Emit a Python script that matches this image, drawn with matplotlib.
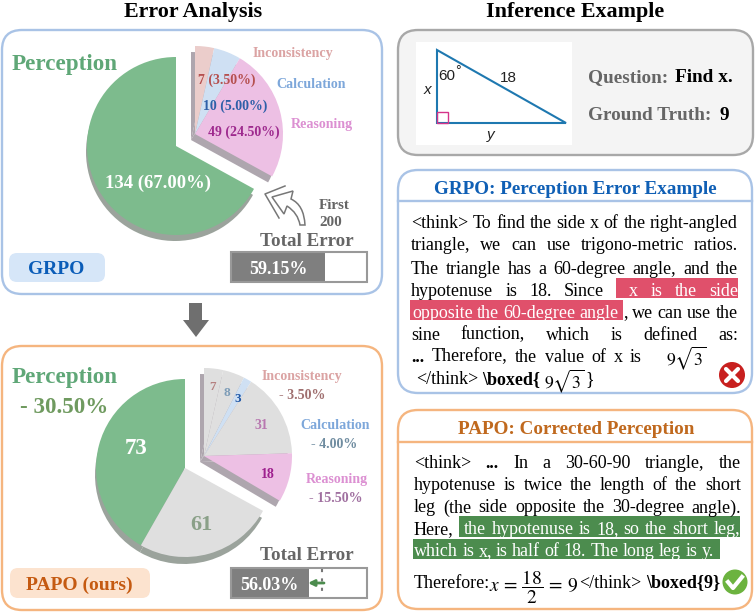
import matplotlib
matplotlib.use('Agg')
import matplotlib.pyplot as plt
from matplotlib.patches import FancyBboxPatch, Rectangle, Polygon, Circle, PathPatch
from matplotlib.path import Path

# ================
# Data
# ================

grpo_big = [134, 66]
grpo_small = [7, 10, 49, 134]
# the big papo slices are not drawn to scale in the figure, so these are the shares as drawn
papo_big = [83.5, 50.5, 66]
papo_small = [7, 8, 3, 31, 18, 133]

grpo_error = 59.15
papo_error = 56.03

grpo_text = [
    "<think> To find the side x of the right-angled",
    "triangle, we can use trigono-metric ratios.",
    "The triangle has a 60-degree angle, and the",
]
papo_text = [
    "In a 30-60-90 triangle, the",
    "hypotenuse is twice the length of the short",
    "leg (the side opposite the 30-degree angle).",
]

# ================
# Style
# ================

W, H = 755, 613
SERIF = 'Liberation Serif'
BODY = 13
green, green_shadow = '#7DBB8D', '#9BA39C'
pink, rose, light_blue, grey = '#EDC0E4', '#EBCDCB', '#CFE0F3', '#DFDFDF'
small_shadow = '#AEA6AE'
bar_grey = '#7F7F7F'
text_grey = '#666666'

plt.rcParams['mathtext.fontset'] = 'stix'

fig = plt.figure(figsize=(W / 100, H / 100), dpi=100)
ax = fig.add_axes([0, 0, 1, 1])


def reset_axes():
    ax.set_xlim(0, W)
    ax.set_ylim(H, 0)
    ax.set_aspect('equal')
    ax.axis('off')


def txt(x, y, s, size=12, color='black', weight='normal', ha='center', **kw):
    return ax.text(x, y, s, fontsize=size, color=color, fontweight=weight, ha=ha,
                   va='center_baseline', family=kw.pop('family', SERIF), **kw)


def panel(x0, y0, x1, y1, edge, face='white', r=20, lw=1.7):
    ax.add_patch(FancyBboxPatch((x0 + r, y0 + r), x1 - x0 - 2 * r, y1 - y0 - 2 * r,
                                boxstyle=f'round,pad={r},rounding_size={r}',
                                fc=face, ec=edge, lw=lw, zorder=1))


def pill(x0, y0, x1, y1, face, r=8):
    ax.add_patch(FancyBboxPatch((x0 + r, y0 + r), x1 - x0 - 2 * r, y1 - y0 - 2 * r,
                                boxstyle=f'round,pad={r},rounding_size={r}',
                                fc=face, ec='none', zorder=2))


def pie(values, colors, center, radius, clockwise=True):
    # y axis points down here, so increasing angles run clockwise on screen
    ax.pie(values, colors=colors, center=center, radius=radius, startangle=-90,
           counterclock=clockwise, frame=True, wedgeprops={'lw': 0})


def error_bar(value, y):
    # bar is cropped, it does not start from zero
    ax.barh(y, (value - 40.8) * 5.13, left=231, height=30, color=bar_grey, zorder=3)
    ax.add_patch(Rectangle((231, y - 15), 136, 30, fc='none', ec='#999999', lw=1.5, zorder=3))


def justify(words, x0, x1, y, size=BODY, color='black'):
    # lay the words out one by one so both edges of the line are flush
    rend = fig.canvas.get_renderer()
    items = []
    for w in words:
        word, weight = w if isinstance(w, tuple) else (w, 'normal')
        items.append(txt(x0, y, word, size=size, color=color, weight=weight, ha='left', zorder=3))
    widths = [t.get_window_extent(rend).width for t in items]
    gap = (x1 - x0 - sum(widths)) / max(len(items) - 1, 1)
    x = x0
    for t, width in zip(items, widths):
        t.set_x(x)
        x += width + gap


reset_axes()

txt(193, 9, 'Error Analysis', size=15.8, weight='bold')
txt(575, 9, 'Inference Example', size=15.8, weight='bold')

# ---- left top panel
panel(2, 30, 382, 294, '#A9C3E6')
pie(grpo_big, [green_shadow, 'none'], (175, 152), 89, clockwise=False)
pie(grpo_big, [green, 'none'], (176, 146), 89, clockwise=False)
pie(grpo_small, [small_shadow] * 3 + ['none'], (191, 140), 88)
pie(grpo_small, [rose, light_blue, pink, 'none'], (195, 134), 88)
reset_axes()

txt(65, 62, 'Perception', size=16.6, color='#5FA777', weight='bold')
txt(158, 181, '134 (67.00%)', size=13.4, color='white', weight='bold')
txt(293, 52, 'Inconsistency', size=10.1, color='#DBA3A3', weight='bold')
txt(311, 83, 'Calculation', size=10.1, color='#7DA7DA', weight='bold')
txt(322, 123, 'Reasoning', size=10.1, color='#DC90D2', weight='bold')
txt(227, 79, '7 (3.50%)', size=10, color='#B5504F', weight='bold')
txt(235, 105, '10 (5.00%)', size=10, color='#2E5FA8', weight='bold')
txt(244, 131, '49 (24.50%)', size=10, color='#9E2A8E', weight='bold')
txt(319, 204, 'First', size=10.9, color=text_grey, weight='bold', ha='left')
txt(319, 221, '200', size=10.9, color=text_grey, weight='bold', ha='left')
txt(307, 239, 'Total Error', size=13.7, color=text_grey, weight='bold')

# hollow double arrow pointing back at the slice
arrow = Path([(272, 197), (293, 191), (291, 199), (304, 205), (305, 225),
              (300, 225), (298, 213), (287, 206), (284, 214), (272, 197)],
             [Path.MOVETO, Path.LINETO, Path.LINETO, Path.CURVE3, Path.CURVE3,
              Path.LINETO, Path.CURVE3, Path.CURVE3, Path.LINETO, Path.CLOSEPOLY])
ax.add_patch(PathPatch(arrow, fc='none', ec='#777777', lw=1.1, zorder=3))
ax.plot([285, 265, 279], [186, 194, 218], color='#777777', lw=1.1, zorder=3)

pill(9, 253, 105, 282, '#D6E6F8')
txt(56, 267, 'GRPO', size=14, color='#0A5CB8', weight='bold')
error_bar(grpo_error, 267)
txt(278, 268, '59.15%', size=13, color='white', weight='bold', zorder=4)

# ---- down arrow between the panels
ax.add_patch(Polygon([(189, 303), (202, 303), (202, 320), (209, 320), (196, 337), (183, 320), (189, 320)],
                     fc='#6F6F6F', ec='none'))

# ---- left bottom panel
panel(2, 346, 382, 610, '#F5B57F')
pie(papo_big, [green_shadow, green_shadow, 'none'], (184, 475), 89, clockwise=False)
pie(papo_big, [green, grey, 'none'], (185, 468), 89, clockwise=False)
pie(papo_small, [small_shadow] * 5 + ['none'], (200, 462), 88)
pie(papo_small, [grey, grey, light_blue, grey, pink, 'none'], (204, 456), 88)
reset_axes()

txt(65, 375, 'Perception', size=16.6, color='#5FA777', weight='bold')
txt(64, 405, '- 30.50%', size=16.6, color='#6F9A5F', weight='bold')
txt(136, 446, '73', size=16.5, color='white', weight='bold')
txt(201, 523, '61', size=16, color='#8AA088', weight='bold')
txt(213, 386, '7', size=9.5, color='#B58080', weight='bold')
txt(227, 392, '8', size=9.5, color='#7E9DB8', weight='bold')
txt(238, 398, '3', size=9.5, color='#1F56A5', weight='bold')
txt(261, 424, '31', size=10, color='#B878B0', weight='bold')
txt(268, 473, '18', size=10, color='#9E1F8E', weight='bold')
txt(302, 375, 'Inconsistency', size=10.1, color='#DBA3A3', weight='bold')
txt(302, 394, '- 3.50%', size=10.1, color='#A07070', weight='bold')
txt(335, 424, 'Calculation', size=10.1, color='#7DA7DA', weight='bold')
txt(334, 443, '- 4.00%', size=10.1, color='#6F8CA0', weight='bold')
txt(337, 478, 'Reasoning', size=10.1, color='#DC90D2', weight='bold')
txt(336, 497, '- 15.50%', size=10.1, color='#A070A0', weight='bold')
txt(307, 553, 'Total Error', size=13.7, color=text_grey, weight='bold')

pill(10, 568, 150, 598, '#FCE3CF')
txt(79, 583, 'PAPO (ours)', size=14, color='#C55A11', weight='bold')
error_bar(papo_error, 583)
txt(269, 584, '56.03%', size=13, color='white', weight='bold', zorder=4)
ax.plot([322, 322], [569, 597], color='#777777', lw=1.5, ls=(0, (1.5, 3)), zorder=4)
ax.annotate('', xy=(308, 583), xytext=(324, 583), zorder=4,
            arrowprops=dict(arrowstyle='-|>', color='#4C8C4E', lw=2, mutation_scale=9,
                            shrinkA=0, shrinkB=0))

# ---- question panel
panel(398, 30, 753, 155, '#A8A8A8', face='#F4F4F4')
ax.add_patch(Rectangle((416, 42), 156, 103, fc='white', ec='none', zorder=2))
ax.add_patch(Polygon([(437, 50), (437, 123), (566, 123)], fc='none', ec='#1E78B0', lw=1.5, zorder=3))
ax.add_patch(Rectangle((437, 112), 11, 11, fc='none', ec='#D6338A', lw=1.0, zorder=3))
txt(447, 75, '60', size=11, family='Liberation Sans', color='#222222')
txt(458, 70, '°', size=10, family='Liberation Sans', color='#222222')
txt(508, 77, '18', size=11, family='Liberation Sans', color='#222222')
txt(427, 88, 'x', size=11, family='Liberation Sans', color='#222222', style='italic')
txt(491, 133, 'y', size=11, family='Liberation Sans', color='#222222', style='italic')
txt(588, 76, 'Question:', size=13.9, color=text_grey, weight='bold', ha='left')
txt(675, 76, 'Find x.', size=13.9, weight='bold', ha='left')
txt(588, 114, 'Ground Truth:', size=13.9, color=text_grey, weight='bold', ha='left')
txt(720, 114, '9', size=13.9, weight='bold', ha='left')

# ---- grpo example
panel(398, 170, 752, 393, '#A9C3E6')
ax.plot([398, 752], [201, 201], color='#A9C3E6', lw=1.7, zorder=2)
txt(575, 188, 'GRPO: Perception Error Example', size=13.8, color='#0F5FB5', weight='bold')
ys = [222, 244, 267, 289, 311, 333, 355, 378]
for y, line in zip(ys, grpo_text):
    justify(line.split(), 411, 738, y)
justify('hypotenuse is 18. Since'.split(), 411, 604, ys[3])
ax.add_patch(Rectangle((616, 278), 122, 20, fc='#E0506B', ec='none', zorder=2))
justify('x is the side'.split(), 629, 738, ys[3], color='white')
ax.add_patch(Rectangle((410, 300), 213, 20, fc='#E0506B', ec='none', zorder=2))
justify('opposite the 60-degree angle'.split(), 412, 618, ys[4], color='white')
justify(', we can use the'.split(), 623, 738, ys[4])
justify('sine function, which is defined as:'.split(), 411, 738, ys[5])
justify([('...', 'bold')] + 'Therefore, the value of x is'.split(), 411, 642, ys[6])
txt(666, ys[6], r'$9\sqrt{3}$', size=12.8, ha='left')
txt(416, ys[7], '</think>', size=BODY, ha='left')
txt(482, ys[7], r'\boxed{', size=BODY, ha='left', weight='bold')
txt(544, ys[7], r'$9\sqrt{3}$', size=12.8, ha='left')
txt(585, ys[7], '}', size=BODY, ha='left')
ax.add_patch(Circle((732, 375), 13, fc='#C8201F', ec='none', zorder=4))
ax.plot([726, 738], [369, 381], color='white', lw=3, zorder=5, solid_capstyle='round')
ax.plot([726, 738], [381, 369], color='white', lw=3, zorder=5, solid_capstyle='round')

# ---- papo example
panel(398, 410, 752, 609, '#F5B57F')
ax.plot([398, 752], [442, 442], color='#F5B57F', lw=1.7, zorder=2)
txt(576, 428, 'PAPO: Corrected Perception', size=13.8, color='#C0691E', weight='bold')
ys = [462, 484, 506, 528, 550, 581]
justify(['<think>', ('...', 'bold')] + papo_text[0].split(), 414, 741, ys[0])
justify(papo_text[1].split(), 414, 741, ys[1])
justify(papo_text[2].split(), 414, 741, ys[2])
txt(414, ys[3], 'Here,', size=BODY, ha='left')
ax.add_patch(Rectangle((459, 516), 281, 21, fc='#4C8C4E', ec='none', zorder=2))
justify('the hypotenuse is 18, so the short leg,'.split(), 464, 740, ys[3], color='white')
ax.add_patch(Rectangle((413, 539), 307, 20, fc='#4C8C4E', ec='none', zorder=2))
justify('which is x, is half of 18. The long leg is y.'.split(), 414, 714, ys[4], color='white')
txt(414, ys[5], 'Therefore:', size=BODY, ha='left')
txt(489, ys[5], r'$x\,=\,\dfrac{18}{2}\,=\,9$', size=14, ha='left')
txt(579, ys[5], '</think>', size=BODY, ha='left')
txt(646, ys[5], r'\boxed{9}', size=BODY, ha='left', weight='bold')
ax.add_patch(Circle((735, 582), 12.5, fc='#6CB33F', ec='none', zorder=4))
ax.plot([728, 733, 742], [582, 588, 577], color='white', lw=3, zorder=5)

reset_axes()
fig.savefig('out.png', dpi=100)
